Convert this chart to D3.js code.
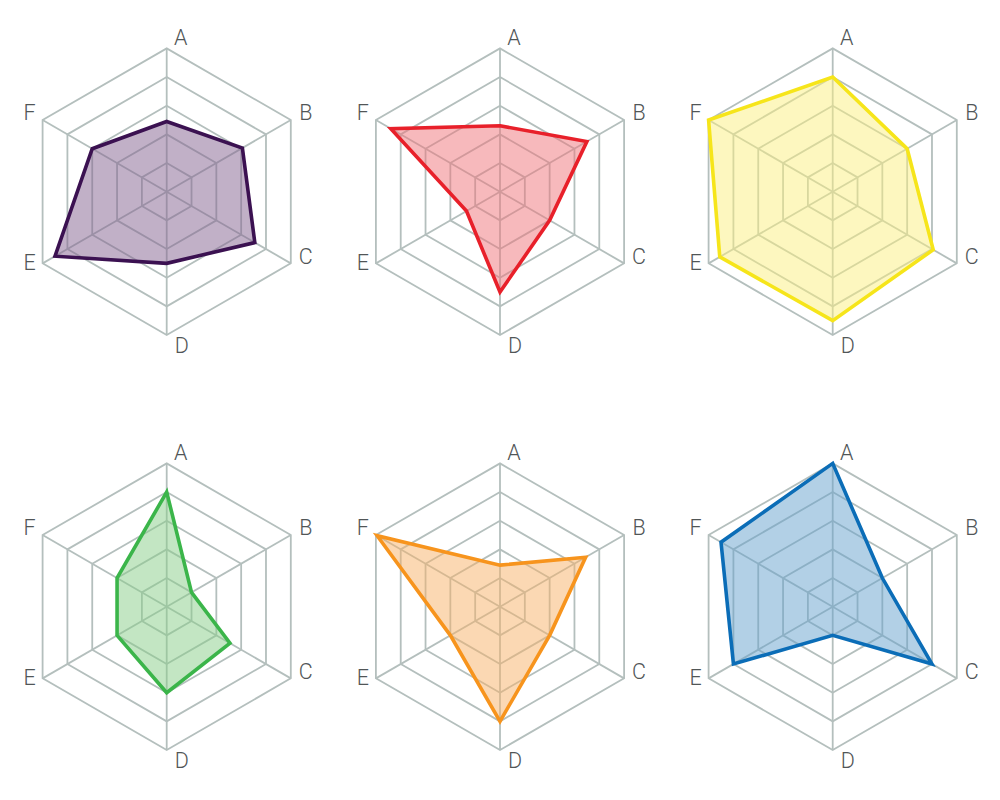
<!DOCTYPE html>
<html>
<head>
<meta charset="utf-8">
<script src="https://cdn.jsdelivr.net/npm/d3@7"></script>
<style>
  html, body { margin: 0; padding: 0; background: #ffffff; }
  svg { display: block; }
</style>
</head>
<body>
<svg id="chart" width="1000" height="800"></svg>
<script>
// ---- data ----
const axes = ["A", "B", "C", "D", "E", "F"];
const levels = [1, 2, 3, 4, 5];
const purpleValues = [2.45, 3.05, 3.55, 2.5, 4.5, 3.0];
const redValues    = [2.3, 3.5, 2.0, 3.5, 1.35, 4.4];
const yellowValues = [4.0, 3.0, 4.05, 4.5, 4.55, 5.0];
const greenValues  = [4.0, 1.0, 2.55, 3.0, 2.0, 2.0];
const orangeValues = [1.45, 3.45, 2.0, 4.0, 2.0, 4.95];
const blueValues   = [5.0, 2.0, 4.0, 1.0, 4.0, 4.5];
const seriesList = [purpleValues, redValues, yellowValues, greenValues, orangeValues, blueValues];

// ---- styling ----
const strokeColors = ["#3b1151", "#e8202a", "#f6e51a", "#3bb54a", "#f7941d", "#0b6db7"];
const fillColors   = ["#84628f", "#ef7379", "#fbef80", "#88cd88", "#f7b167", "#66a1ce"];
const gridColor = "#b4bfbd";
const R = 143.3;
const colX = [166.7, 500, 832.7];
const rowY = [191.7, 606.7];
const labelOffsets = [[14, -11], [15, -8], [15, -7], [15, 11], [-13, -1], [-13, -8]];

const svg = d3.select("#chart");
const r = d3.scaleLinear().domain([0, 5]).range([0, R]);
const angle = d3.scalePoint().domain(axes).range([0, 2 * Math.PI * (axes.length - 1) / axes.length]);

const radial = d3.lineRadial()
  .angle(d => angle(d.axis))
  .radius(d => r(d.value))
  .curve(d3.curveLinearClosed);

function pt(axis, value) {
  const a = angle(axis) - Math.PI / 2;
  return [r(value) * Math.cos(a), r(value) * Math.sin(a)];
}

seriesList.forEach((vals, i) => {
  const cx = colX[i % 3], cy = rowY[Math.floor(i / 3)];
  const g = svg.append("g").attr("transform", `translate(${cx},${cy})`);

  // grid rings
  g.selectAll("path.ring").data(levels).join("path")
    .attr("class", "ring")
    .attr("d", lv => radial(axes.map(a => ({ axis: a, value: lv }))))
    .attr("fill", "none")
    .attr("stroke", gridColor)
    .attr("stroke-width", 1.8);

  // spokes
  g.selectAll("line.spoke").data(axes).join("line")
    .attr("class", "spoke")
    .attr("x1", 0).attr("y1", 0)
    .attr("x2", a => pt(a, 5)[0])
    .attr("y2", a => pt(a, 5)[1])
    .attr("stroke", gridColor)
    .attr("stroke-width", 1.8);

  // data polygon
  const data = axes.map((a, k) => ({ axis: a, value: vals[k] }));
  g.append("path")
    .attr("d", radial(data))
    .attr("fill", fillColors[i])
    .attr("fill-opacity", 0.5)
    .attr("stroke", strokeColors[i])
    .attr("stroke-width", 3.6)
    .attr("stroke-linejoin", "miter");

  // labels
  g.selectAll("text.lbl").data(axes).join("text")
    .attr("class", "lbl")
    .attr("x", (a, k) => pt(a, 5)[0] + labelOffsets[k][0])
    .attr("y", (a, k) => pt(a, 5)[1] + labelOffsets[k][1])
    .attr("text-anchor", "middle")
    .attr("dominant-baseline", "central")
    .attr("font-family", "Roboto, 'Liberation Sans', sans-serif")
    .attr("font-weight", 300)
    .attr("font-size", 21.5)
    .attr("fill", "#515657")
    .text(a => a);
});
</script>
</body>
</html>
